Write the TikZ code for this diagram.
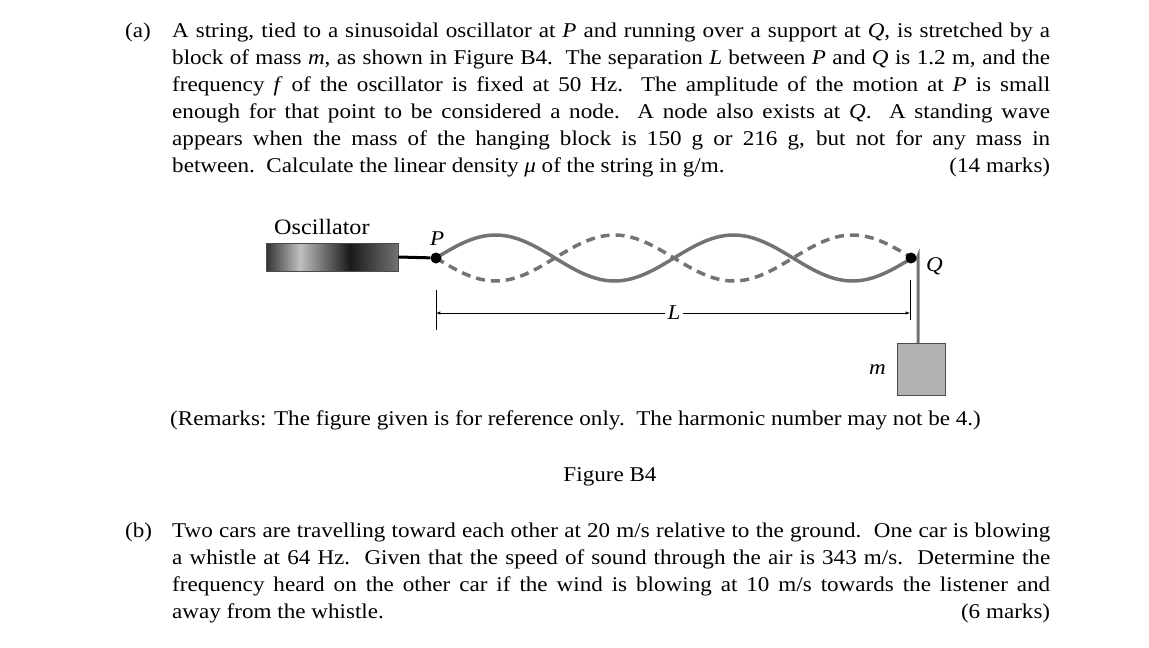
\documentclass[tikz,border=0pt]{standalone}
\usepackage{fontspec}
\setmainfont{Liberation Serif}[FakeStretch=1.1]
\newcommand{\jline}[1]{\hbox{\makebox[878pt][s]{#1}}}
\begin{document}
\begin{tikzpicture}[x=1pt,y=-1pt,
  txt/.style={anchor=base west,inner sep=0pt,font=\fontsize{21}{27}\selectfont},
  lbl/.style={anchor=base west,inner sep=0pt,font=\fontsize{21}{24}\selectfont\itshape},
  wave/.style={line width=3.5pt,color=black!55},
  dot/.style={circle,fill=black,inner sep=0pt,minimum size=11pt}]
\useasboundingbox (0,0) rectangle (1149,648);
% part (a)
\node[txt] (a0) at (125,37) {(a)};
\node[txt] (a1) at (172,37) {\vtop{\baselineskip=27pt
\jline{A string, tied to a sinusoidal oscillator at \textit{P} and running over a support at \textit{Q}, is stretched by a}
\jline{block of mass \textit{m}, as shown in Figure B4.\ \ The separation \textit{L} between \textit{P} and \textit{Q} is 1.2 m, and the}
\jline{frequency \textit{f} of the oscillator is fixed at 50 Hz.\ \ The amplitude of the motion at \textit{P} is small}
\jline{enough for that point to be considered a node.\ \ A node also exists at \textit{Q}.\ \ A standing wave}
\jline{appears when the mass of the hanging block is 150 g or 216 g, but not for any mass in}
\jline{between.\ \ Calculate the linear density \textit{μ} of the string in g/m.\hfill (14 marks)}}};
% figure
\shade[left color=black!80,right color=black!25] (266,243) rectangle (300,271);
\shade[left color=black!25,right color=black!90] (300,243) rectangle (350,271);
\shade[left color=black!90,right color=black!55] (350,243) rectangle (398,271);
\node[draw=black!70,line width=0.6pt,minimum width=132pt,minimum height=28pt,inner sep=0pt] (osc) at (332,257) {};
\node[txt,font=\fontsize{22}{24}\selectfont] (osclab) at (274,234) {Oscillator};
\draw[wave] plot[domain=0:476,samples=120] ({436+\x},{258-23*sin(\x*1.5126)});
\draw[wave,dash pattern=on 9pt off 6pt] plot[domain=0:476,samples=120] ({436+\x},{258+23*sin(\x*1.5126)});
\draw[wave,line width=3pt] (910,256) arc[start angle=180,end angle=0,radius=4] -- (918,343);
\node[dot] (P) at (436,258) {};
\node[dot] (Q) at (911,258) {};
\draw[line width=3pt] (osc.east) -- (P);
\node[lbl] (Plab) at (430,245) {P};
\node[lbl] (Qlab) at (926,271) {Q};
\node[draw=black!70,fill=black!30,minimum width=48pt,minimum height=52pt,inner sep=0pt] (m) at (921,369) {};
\node[lbl] (mlab) at (869,374) {m};
\coordinate (t1a) at (436,290); \coordinate (t1b) at (436,330);
\coordinate (t2a) at (910,280); \coordinate (t2b) at (910,320);
\draw[line width=0.5pt] (t1a) -- (t1b);
\draw[line width=0.5pt] (t2a) -- (t2b);
\node[inner sep=2pt,fill=white,font=\fontsize{21}{24}\selectfont\itshape] (L) at (674,313) {L};
\draw[-latex,line width=0.5pt] (L) -- (436,313);
\draw[-latex,line width=0.5pt] (L) -- (910,313);
\node[txt] (rem) at (170,425) {(Remarks: The figure given is for reference only.\ \ The harmonic number may not be 4.)};
\node[txt,anchor=base] (fig) at (610,481) {Figure B4};
% part (b)
\node[txt] (b0) at (125,537) {(b)};
\node[txt] (b1) at (172,537) {\vtop{\baselineskip=27pt
\jline{Two cars are travelling toward each other at 20 m/s relative to the ground.\ \ One car is blowing}
\jline{a whistle at 64 Hz.\ \ Given that the speed of sound through the air is 343 m/s.\ \ Determine the}
\jline{frequency heard on the other car if the wind is blowing at 10 m/s towards the listener and}
\jline{away from the whistle.\hfill (6 marks)}}};
\end{tikzpicture}
\end{document}
